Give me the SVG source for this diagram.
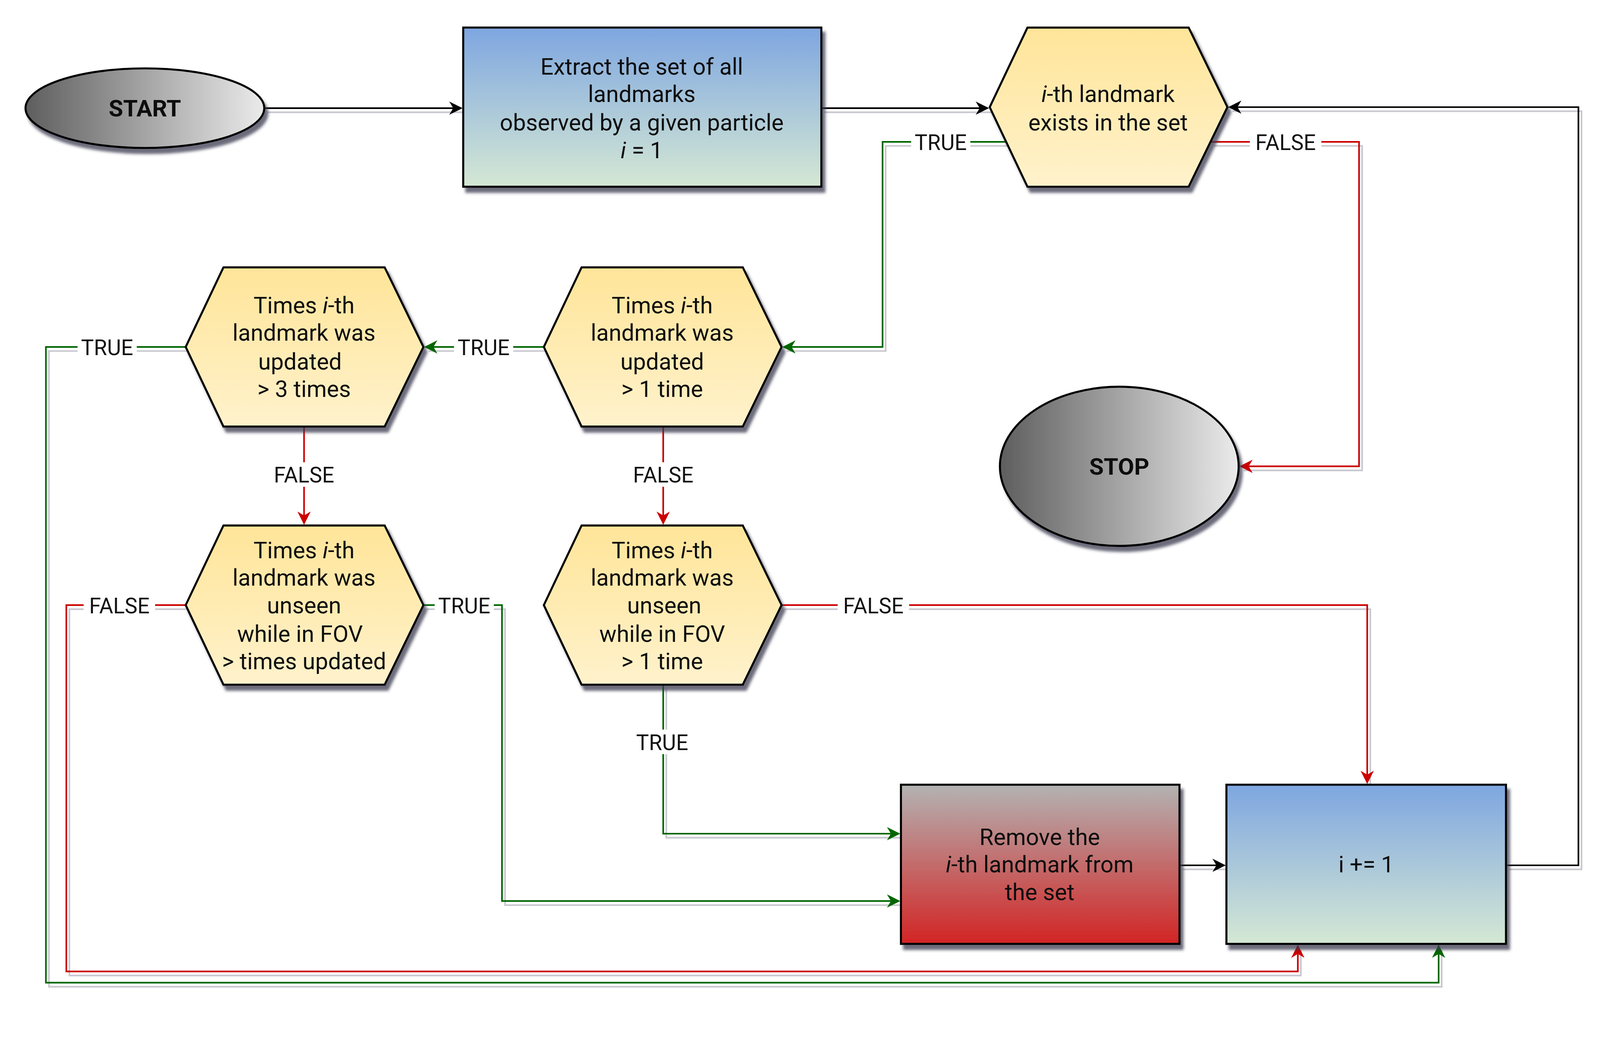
<svg xmlns="http://www.w3.org/2000/svg" xmlns:xlink="http://www.w3.org/1999/xlink" width="4217" height="2657" viewBox="0 0 4217 2657">
<style>
.t{font-family:Roboto,"Liberation Sans",sans-serif;font-size:22.5px;fill:#111;text-anchor:middle}
.b{font-weight:bold;font-size:23px}
.lbl{font-family:Roboto,"Liberation Sans",sans-serif;font-size:21px;fill:#111;text-anchor:middle}
.lb{fill:#fff}
.shape{stroke:#000;stroke-width:2}
.c{fill:none;stroke-width:1.6}
.k{stroke:#000}.g{stroke:#006600}.r{stroke:#cc0000}
.sh{fill:none;stroke:#c8c8d0;stroke-width:1.6}
</style>
<defs>
<linearGradient id="gb" x1="0" y1="0" x2="0" y2="1"><stop offset="0" stop-color="#7ea6e0"/><stop offset="1" stop-color="#d5e8d4"/></linearGradient>
<linearGradient id="gy" x1="0" y1="0" x2="0" y2="1"><stop offset="0" stop-color="#ffe599"/><stop offset="1" stop-color="#fff2cc"/></linearGradient>
<linearGradient id="ge" x1="0" y1="0" x2="1" y2="0"><stop offset="0" stop-color="#5e5e5e"/><stop offset="1" stop-color="#ebebeb"/></linearGradient>
<linearGradient id="gr" x1="0" y1="0" x2="0" y2="1"><stop offset="0" stop-color="#b3b3b3"/><stop offset="1" stop-color="#d32424"/></linearGradient>
<filter id="ds" x="-20%" y="-20%" width="140%" height="150%"><feDropShadow dx="3" dy="5" stdDeviation="1.5" flood-color="#3a3a50" flood-opacity="0.75"/></filter>
<marker id="ak" viewBox="0 0 10 10" refX="9" refY="5" markerWidth="13" markerHeight="13" orient="auto" markerUnits="userSpaceOnUse"><path d="M0,0 L10,5 L0,10 L3,5 Z" fill="#000"/></marker>
<marker id="ag" viewBox="0 0 10 10" refX="9" refY="5" markerWidth="13" markerHeight="13" orient="auto" markerUnits="userSpaceOnUse"><path d="M0,0 L10,5 L0,10 L3,5 Z" fill="#006600"/></marker>
<marker id="ar" viewBox="0 0 10 10" refX="9" refY="5" markerWidth="13" markerHeight="13" orient="auto" markerUnits="userSpaceOnUse"><path d="M0,0 L10,5 L0,10 L3,5 Z" fill="#cc0000"/></marker>
</defs>
<g transform="scale(2.612)">
<g id="connectors">
<g transform="translate(3,4)">
<path class="sh" d="M259,106 H454"/><path class="sh" d="M805,106 H970"/>
<path class="sh" d="M1476,848 H1547 V105 H1205"/>
<path class="sh" d="M986,139 H865 V340 H768"/>
<path class="sh" d="M1187,139 H1332 V457 H1216"/>
<path class="sh" d="M533,340 H417"/>
<path class="sh" d="M182,340 H45 V963 H1410 V927"/>
<path class="sh" d="M182,593 H65 V952 H1272 V927"/>
<path class="sh" d="M415,593 H492 V883 H881"/>
<path class="sh" d="M766,593 H1340 V767"/>
<path class="sh" d="M650,671 V817 H881"/>
<path class="sh" d="M1156,848 H1200"/>
</g>
<path class="c k" d="M259,106 H452" marker-end="url(#ak)"/>
<path class="c k" d="M805,106 H968" marker-end="url(#ak)"/>
<path class="c k" d="M1476,848 H1547 V105 H1205" marker-end="url(#ak)"/>
<path class="c g" d="M986,139 H865 V340 H768" marker-end="url(#ag)"/>
<path class="c r" d="M1187,139 H1332 V457 H1216" marker-end="url(#ar)"/>
<path class="c g" d="M533,340 H417" marker-end="url(#ag)"/>
<path class="c r" d="M650,418 V513" marker-end="url(#ar)"/>
<path class="c r" d="M298,418 V513" marker-end="url(#ar)"/>
<path class="c g" d="M182,340 H45 V963 H1410 V927" marker-end="url(#ag)"/>
<path class="c r" d="M182,593 H65 V952 H1272 V927" marker-end="url(#ar)"/>
<path class="c g" d="M415,593 H492 V883 H881" marker-end="url(#ag)"/>
<path class="c r" d="M766,593 H1340 V767" marker-end="url(#ar)"/>
<path class="c g" d="M650,671 V817 H881" marker-end="url(#ag)"/>
<path class="c k" d="M1156,848 H1200" marker-end="url(#ak)"/>
<g id="labels">
<rect class="lb" x="893" y="127" width="58" height="24"/><text class="lbl" x="922" y="147">TRUE</text>
<rect class="lb" x="1225" y="127" width="70" height="24"/><text class="lbl" x="1260" y="147">FALSE</text>
<rect class="lb" x="445" y="328" width="58" height="24"/><text class="lbl" x="474" y="348">TRUE</text>
<rect class="lb" x="76" y="328" width="58" height="24"/><text class="lbl" x="105" y="348">TRUE</text>
<rect class="lb" x="615" y="453" width="70" height="24"/><text class="lbl" x="650" y="473">FALSE</text>
<rect class="lb" x="263" y="453" width="70" height="24"/><text class="lbl" x="298" y="473">FALSE</text>
<rect class="lb" x="82" y="581" width="70" height="24"/><text class="lbl" x="117" y="601">FALSE</text>
<rect class="lb" x="426" y="581" width="58" height="24"/><text class="lbl" x="455" y="601">TRUE</text>
<rect class="lb" x="821" y="581" width="70" height="24"/><text class="lbl" x="856" y="601">FALSE</text>
<rect class="lb" x="620" y="715" width="58" height="24"/><text class="lbl" x="649" y="735">TRUE</text>
</g>
</g>
<g id="start" filter="url(#ds)"><ellipse class="shape" cx="142" cy="106" rx="117" ry="39" fill="url(#ge)" stroke-width="3"/><text class="t b" x="142" y="114">START</text></g>
<g id="extract" filter="url(#ds)"><rect class="shape" x="454" y="27" width="351" height="156" fill="url(#gb)"/>
<text class="t" x="629" y="73">Extract the set of all</text><text class="t" x="629" y="100">landmarks</text><text class="t" x="629" y="128">observed by a given particle</text><text class="t" x="629" y="155"><tspan font-style="italic">i</tspan> = 1</text></g>
<g id="exists" filter="url(#ds)"><polygon class="shape" points="1007,27 1165,27 1203,105 1165,183 1007,183 970,105" fill="url(#gy)"/>
<text class="t" x="1086" y="100"><tspan font-style="italic">i</tspan>-th landmark</text><text class="t" x="1086" y="128">exists in the set</text></g>
<g id="upd1" filter="url(#ds)"><polygon class="shape" points="570,262 728,262 766,340 728,418 570,418 533,340" fill="url(#gy)"/>
<text class="t" x="649" y="307">Times <tspan font-style="italic">i</tspan>-th</text><text class="t" x="649" y="334">landmark was</text><text class="t" x="649" y="362">updated</text><text class="t" x="649" y="389">&gt; 1 time</text></g>
<g id="upd3" filter="url(#ds)"><polygon class="shape" points="219,262 377,262 415,340 377,418 219,418 182,340" fill="url(#gy)"/>
<text class="t" x="298" y="307">Times <tspan font-style="italic">i</tspan>-th</text><text class="t" x="298" y="334">landmark was</text><text class="t" x="294" y="362">updated</text><text class="t" x="298" y="389">&gt; 3 times</text></g>
<g id="unseenUpd" filter="url(#ds)"><polygon class="shape" points="219,515 377,515 415,593 377,671 219,671 182,593" fill="url(#gy)"/>
<text class="t" x="298" y="547">Times <tspan font-style="italic">i</tspan>-th</text><text class="t" x="298" y="574">landmark was</text><text class="t" x="298" y="601">unseen</text><text class="t" x="294" y="629">while in FOV</text><text class="t" x="298" y="656">&gt; times updated</text></g>
<g id="unseen1" filter="url(#ds)"><polygon class="shape" points="570,515 728,515 766,593 728,671 570,671 533,593" fill="url(#gy)"/>
<text class="t" x="649" y="547">Times <tspan font-style="italic">i</tspan>-th</text><text class="t" x="649" y="574">landmark was</text><text class="t" x="651" y="601">unseen</text><text class="t" x="649" y="629">while in FOV</text><text class="t" x="649" y="656">&gt; 1 time</text></g>
<g id="stop" filter="url(#ds)"><ellipse class="shape" cx="1097" cy="457" rx="117" ry="78" fill="url(#ge)" stroke-width="3"/><text class="t b" x="1097" y="465">STOP</text></g>
<g id="remove" filter="url(#ds)"><rect class="shape" x="883" y="769" width="273" height="156" fill="url(#gr)"/>
<text class="t" x="1019" y="828">Remove the</text><text class="t" x="1019" y="855"><tspan font-style="italic">i</tspan>-th landmark from</text><text class="t" x="1019" y="882">the set</text></g>
<g id="incr" filter="url(#ds)"><rect class="shape" x="1202" y="769" width="274" height="156" fill="url(#gb)"/>
<text class="t" x="1339" y="855">i += 1</text></g>
</g>
</svg>
